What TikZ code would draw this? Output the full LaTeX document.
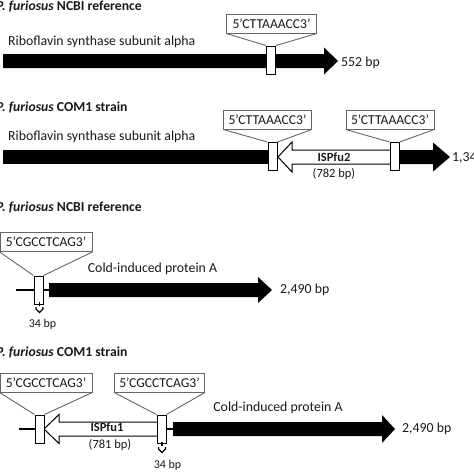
\documentclass[tikz,border=0pt]{standalone}
\usepackage{fontspec}
\setmainfont{Carlito}
\begin{document}
\begin{tikzpicture}[x=1pt,y=-1pt,
  ttl/.style={anchor=base west, inner sep=0, text=black!90, font=\fontsize{13.7}{15}\selectfont\bfseries},
  lab/.style={inner sep=0, text=black!90, font=\fontsize{13.8}{15}\selectfont},
  small/.style={inner sep=0, text=black!90, font=\fontsize{12.5}{14}\selectfont},
  tiny/.style={inner sep=0, text=black!90, font=\fontsize{12}{13}\selectfont},
  seq/.style={draw=black!60, line width=0.9pt, fill=white, inner sep=0, minimum height=19pt, text=black!90, font=\fontsize{13.6}{15}\selectfont},
  site/.style={draw=black, fill=white, line width=1pt, inner sep=0, minimum width=9pt, minimum height=28pt},
  gene/.style={fill=black},
  ins/.style={draw=black, fill=white, line width=1pt, line join=miter},
  lead/.style={draw=black!60, line width=0.9pt},
  thinline/.style={draw=black, line width=1.2pt},
  fork/.style={draw=black, line width=1.3pt}
]
\useasboundingbox (0,0) rectangle (474,474);

% ---------- Panel 1 ----------
\node[ttl] (t1) at (-4,10.7) {\textit{P. furiosus} NCBI reference};
\node[lab, anchor=base west] (g1) at (8,45) {Riboflavin synthase subunit alpha};
\fill[gene] (3,54) -- (324,54) -- (324,47.5) -- (338,61) -- (324,74.5) -- (324,68) -- (3,68) -- cycle;
\node[site] (s1) at (271,60) {};
\node[seq, minimum width=90pt] (c1) at (271.5,23.5) {5’CTTAAACC3’};
\draw[lead] (c1.south west) -- (s1.north west) (c1.south east) -- (s1.north east);
\node[lab, anchor=west] (e1) at (341,63) {552 bp};

% ---------- Panel 2 ----------
\node[ttl] (t2) at (-4,111) {\textit{P. furiosus} COM1 strain};
\node[lab, anchor=base west] (g2) at (8,140) {Riboflavin synthase subunit alpha};
\fill[gene] (3,150) rectangle (272,164);
\fill[gene] (394,150) -- (433,150) -- (433,142.5) -- (450,157) -- (433,171.5) -- (433,164) -- (394,164) -- cycle;
\draw[ins] (394,150) -- (292,150) -- (292,142) -- (278,157) -- (292,172) -- (292,164) -- (394,164) -- cycle;
\node[site] (s2a) at (272.5,156.5) {};
\node[site] (s2b) at (394.5,156.5) {};
\node[seq, minimum width=88pt] (c2a) at (267.5,119.5) {5’CTTAAACC3’};
\node[seq, minimum width=88pt] (c2b) at (390,119.5) {5’CTTAAACC3’};
\draw[lead] (c2a.south west) -- (s2a.north west) (c2a.south east) -- (s2a.north east);
\draw[lead] (c2b.south west) -- (s2b.north west) (c2b.south east) -- (s2b.north east);
\node[small] (i2) at (334,157) {\bfseries ISPfu2};
\node[small] (b2) at (334,174) {(782 bp)};
\node[lab, anchor=west] (e2) at (452,158) {1,34};

% ---------- Panel 3 ----------
\node[ttl] (t3) at (-4,211) {\textit{P. furiosus} NCBI reference};
\coordinate (l3) at (16,290);
\coordinate (m3) at (49,290);
\draw[thinline] (l3) -- (m3);
\fill[gene] (49,283) -- (258,283) -- (258,277) -- (272,290) -- (258,303) -- (258,297) -- (49,297) -- cycle;
\node[site] (s3) at (38.5,290) {};
\node[seq, minimum width=92pt] (c3) at (46,242) {5’CGCCTCAG3’};
\draw[lead] (c3.south west) -- (s3.north west) (c3.south east) -- (s3.north east);
\node[lab] (p3) at (152.5,269) {Cold-induced protein A};
\node[lab, anchor=west] (e3) at (280,290) {2,490 bp};
\coordinate (f3) at (39.5,307);
\draw[fork] ([xshift=-3.5pt]f3) -- ++(0,2) -- ++(3.5,3.5) -- ++(3.5,-3.5) -- ++(0,-2);
\draw[fork] ([yshift=5.5pt]f3) -- ++(0,4);
\node[tiny] (d3) at (42.5,324) {34 bp};

% ---------- Panel 4 ----------
\node[ttl] (t4) at (-4,356) {\textit{P. furiosus} COM1 strain};
\coordinate (l4) at (19,429);
\coordinate (m4) at (173,429);
\draw[thinline] (l4) -- (39,429);
\draw[thinline] (161,429) -- (m4);
\draw[ins] (161,422) -- (59,422) -- (59,414.5) -- (44,429) -- (59,443.5) -- (59,436) -- (161,436) -- cycle;
\fill[gene] (173,422) -- (382,422) -- (382,415) -- (395,429) -- (382,443) -- (382,436) -- (173,436) -- cycle;
\node[site] (s4a) at (39.5,429) {};
\node[site] (s4b) at (161.5,429) {};
\node[seq, minimum width=92pt] (c4a) at (46,382.5) {5’CGCCTCAG3’};
\node[seq, minimum width=90pt] (c4b) at (159.5,382.5) {5’CGCCTCAG3’};
\draw[lead] (c4a.south west) -- (s4a.north west) (c4a.south east) -- (s4a.north east);
\draw[lead] (c4b.south west) -- (s4b.north west) (c4b.south east) -- (s4b.north east);
\node[small] (i4) at (107,427) {\bfseries ISPfu1};
\node[small] (b4) at (110,445) {(781 bp)};
\node[lab] (p4) at (278,408) {Cold-induced protein A};
\node[lab, anchor=west] (e4) at (402,429) {2,490 bp};
\coordinate (f4) at (162,447);
\draw[fork] ([xshift=-3.5pt]f4) -- ++(0,2) -- ++(3.5,3.5) -- ++(3.5,-3.5) -- ++(0,-2);
\draw[fork] ([yshift=5.5pt]f4) -- ++(0,4);
\node[tiny] (d4) at (167.5,465) {34 bp};
\end{tikzpicture}
\end{document}
